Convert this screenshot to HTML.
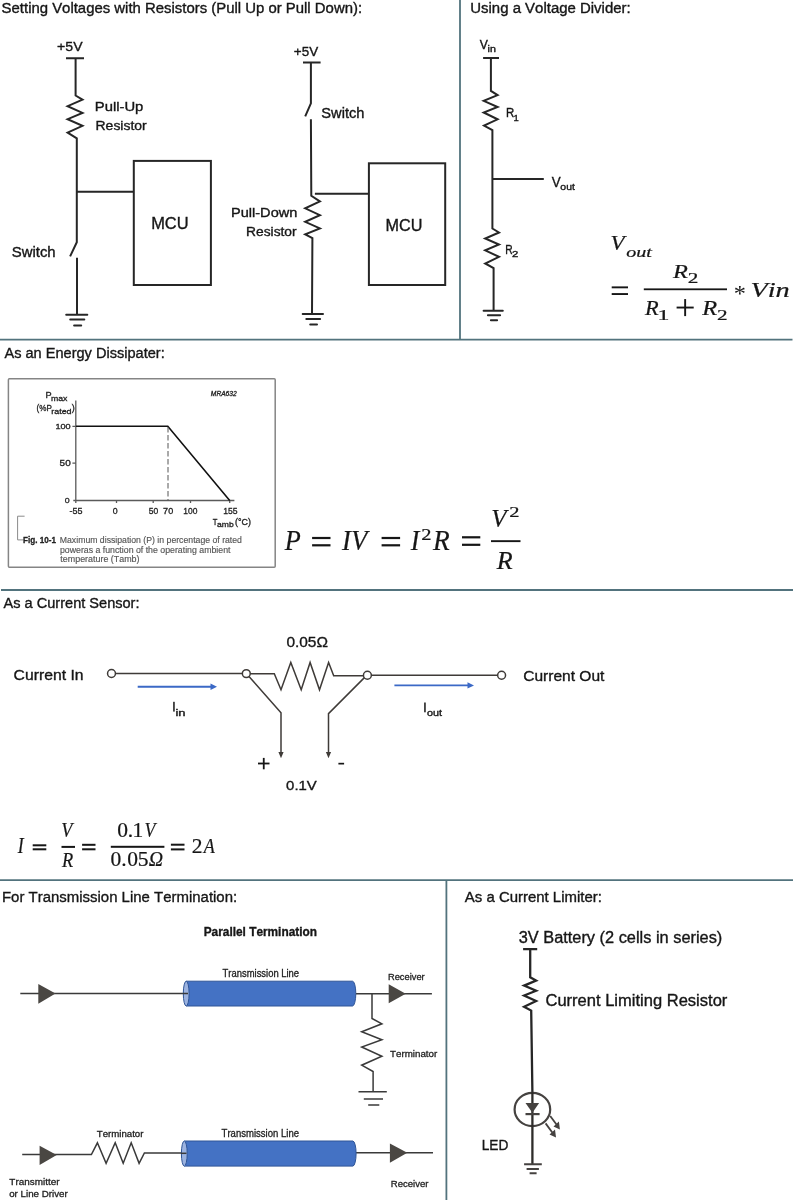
<!DOCTYPE html>
<html>
<head>
<meta charset="utf-8">
<style>
html,body{margin:0;padding:0;background:#fff;width:793px;height:1200px;overflow:hidden;}
svg{display:block;filter:blur(0.35px);}
text{font-family:"Liberation Sans",sans-serif;fill:#161616;font-kerning:none;stroke:#161616;stroke-width:0.35;}
.m{font-family:"Liberation Serif",serif;font-style:italic;stroke-width:0;}
.mr{font-family:"Liberation Serif",serif;stroke-width:0;}
.mt text{stroke:#161616;stroke-width:0.22;}
text.c5{fill:#555;stroke:#555;stroke-width:0.15;}
text.c2{fill:#222;stroke:#222;stroke-width:0.3;}
.w{fill:none;stroke:#262626;stroke-width:2;stroke-linejoin:miter;stroke-linecap:butt;}
.g{fill:none;stroke:#3f3b38;stroke-width:1.5;}
.dv{stroke:#52737d;stroke-width:1.8;}
</style>
</head>
<body>
<svg width="793" height="1200" viewBox="0 0 793 1200">
<rect x="0" y="0" width="793" height="1200" fill="#fff"/>

<line class="dv" x1="0" y1="339.6" x2="792.5" y2="339.6"/>
<line class="dv" x1="1" y1="590" x2="793" y2="590"/>
<line class="dv" x1="0" y1="880.2" x2="793" y2="880.2"/>
<line class="dv" x1="460" y1="0" x2="460" y2="339.6"/>
<line class="dv" x1="446.4" y1="880.2" x2="446.4" y2="1200"/>
<text x="1.62" y="13.20" font-size="14.10" textLength="360.44" lengthAdjust="spacingAndGlyphs">Setting Voltages with Resistors (Pull Up or Pull Down):</text>
<path class="w" d="M66 58.3H84 M75.6 58.3V95.5 L82.5 99.6 L67.6 106.2 L82.5 112.9 L67.6 119.2 L82.5 125.8 L67.6 132.7 L76.8 138.4 V242.2 L70.1 256.4 M77 257.8V314.7 M76.8 191.7H133.8"/>
<rect class="w" x="133.8" y="160.9" width="77.1" height="124.1"/>
<path class="w" style="stroke-linecap:round" d="M66.2 314.7H87.3 M70.2 319.5H84.3 M74.1 325.5H81.2"/>
<text x="57.11" y="51.40" font-size="13.37" textLength="25.45" lengthAdjust="spacingAndGlyphs">+5V</text>
<text x="94.79" y="110.70" font-size="12.94" textLength="48.54" lengthAdjust="spacingAndGlyphs">Pull-Up</text>
<text x="95.56" y="129.80" font-size="12.50" textLength="51.18" lengthAdjust="spacingAndGlyphs">Resistor</text>
<text x="151.15" y="229.40" font-size="16.42" textLength="37.42" lengthAdjust="spacingAndGlyphs">MCU</text>
<text x="11.82" y="257.00" font-size="13.81" textLength="43.84" lengthAdjust="spacingAndGlyphs">Switch</text>
<path class="w" d="M303 62.5H320.6 M310.9 62.5V103.4 L305.2 116.3 M310.9 119.2 L311.3 195.8 L319.9 201.3 L305.2 208.3 L319.9 215.2 L305.2 221.8 L319.9 228.4 L305.2 234.3 L312.4 238.1 L312 314 M314.9 193.7H368.9"/>
<rect class="w" x="368.9" y="163.3" width="76.3" height="121.7"/>
<path class="w" style="stroke-linecap:round" d="M302.7 314H323 M306.3 318.9H320.1 M310.2 324.5H317"/>
<text x="293.84" y="55.60" font-size="13.08" textLength="24.32" lengthAdjust="spacingAndGlyphs">+5V</text>
<text x="321.34" y="117.60" font-size="13.95" textLength="43.12" lengthAdjust="spacingAndGlyphs">Switch</text>
<text x="231.01" y="216.60" font-size="12.79" textLength="66.34" lengthAdjust="spacingAndGlyphs">Pull-Down</text>
<text x="246.07" y="235.70" font-size="12.65" textLength="50.56" lengthAdjust="spacingAndGlyphs">Resistor</text>
<text x="385.57" y="230.80" font-size="16.57" textLength="36.88" lengthAdjust="spacingAndGlyphs">MCU</text>
<text x="470.25" y="13.20" font-size="13.95" textLength="160.42" lengthAdjust="spacingAndGlyphs">Using a Voltage Divider:</text>
<path class="w" d="M483.1 57.9H499 M490.9 57.9V90.9 L497.6 95.1 L483.7 100.8 L497.6 107 L483.7 112.5 L497.6 119.3 L484 125.6 L492.4 130.2 V228.5 L499 232.5 L485.2 238.5 L499 244.5 L485.2 250.3 L499 256.8 L485.2 263.5 L493.6 268 V310.8 M492.4 178.9H543.8"/>
<path class="w" style="stroke-linecap:round" d="M483.6 310.8H502.8 M487.9 315.3H500.1 M490.9 320.3H497.1"/>
<text x="479.85" y="49.00" font-size="11.92" textLength="8.11" lengthAdjust="spacingAndGlyphs">V</text>
<text x="487.59" y="52.10" font-size="8.60" textLength="8.31" lengthAdjust="spacingAndGlyphs">in</text>
<text x="505.96" y="117.40" font-size="12.21" textLength="8.27" lengthAdjust="spacingAndGlyphs">R</text>
<text x="513.58" y="120.50" font-size="8.40" textLength="5.29" lengthAdjust="spacingAndGlyphs">1</text>
<text x="505.36" y="253.70" font-size="12.21" textLength="7.42" lengthAdjust="spacingAndGlyphs">R</text>
<text x="512.03" y="256.80" font-size="8.40" textLength="6.35" lengthAdjust="spacingAndGlyphs">2</text>
<text x="551.74" y="186.50" font-size="13.81" textLength="8.92" lengthAdjust="spacingAndGlyphs">V</text>
<text x="560.36" y="190.00" font-size="9.60" textLength="14.51" lengthAdjust="spacingAndGlyphs">out</text>
<g class="mt">
<text class="m" x="610.50" y="250.40" font-size="20.00" textLength="14.09" lengthAdjust="spacingAndGlyphs">V</text>
<text class="m" x="626.20" y="256.50" font-size="15.00" textLength="25.70" lengthAdjust="spacingAndGlyphs">out</text>
<text class="m" x="673.13" y="277.70" font-size="19.08" textLength="14.87" lengthAdjust="spacingAndGlyphs">R</text>
<text class="mr" x="687.87" y="283.30" font-size="14.96" textLength="10.60" lengthAdjust="spacingAndGlyphs">2</text>
<text class="m" x="645.12" y="314.90" font-size="20.15" textLength="13.65" lengthAdjust="spacingAndGlyphs">R</text>
<text class="mr" x="657.50" y="320.20" font-size="14.96" textLength="11.93" lengthAdjust="spacingAndGlyphs">1</text>
<text class="m" x="702.33" y="314.90" font-size="20.15" textLength="14.87" lengthAdjust="spacingAndGlyphs">R</text>
<text class="mr" x="717.07" y="320.20" font-size="14.96" textLength="10.60" lengthAdjust="spacingAndGlyphs">2</text>
<text class="m" x="750.52" y="296.60" font-size="20.76" textLength="39.25" lengthAdjust="spacingAndGlyphs">Vin</text>
</g>
<g fill="#161616">
<rect x="611.7" y="286.4" width="16.3" height="1.9"/><rect x="611.7" y="293.1" width="16.3" height="1.9"/>
<rect x="643.8" y="288.4" width="83.2" height="1.8"/>
<rect x="676.6" y="306.6" width="17.1" height="1.9"/><rect x="684.2" y="299.1" width="1.9" height="17"/>
</g>
<text class="mr" x="733.81" y="300.50" font-size="22.60" textLength="12.15" lengthAdjust="spacingAndGlyphs">*</text>
<text x="4.47" y="357.70" font-size="14.39" textLength="160.26" lengthAdjust="spacingAndGlyphs">As an Energy Dissipater:</text>
<rect x="8.4" y="378.8" width="266.8" height="188.4" rx="1" fill="none" stroke="#858585" stroke-width="1.5"/>
<path d="M75.8 400.5V503 M73.3 500.5H234.4 M72.4 426.4H75.8 M72.4 463.2H75.8 M116.5 500.5V503 M153.2 500.5V503 M190.5 500.5V503 M229.7 500.5V503" fill="none" stroke="#5a5a5a" stroke-width="1.3"/>
<path d="M76 426.3H167.8L229.7 500.6" fill="none" stroke="#111" stroke-width="1.6"/>
<line x1="168" y1="427" x2="168" y2="500.6" stroke="#555" stroke-width="1" stroke-dasharray="5.5 2.5"/>
<g>
<text class="c2" x="55.40" y="428.80" font-size="7.70" textLength="15.25" lengthAdjust="spacingAndGlyphs">100</text>
<text class="c2" x="59.60" y="466.20" font-size="8.14" textLength="11.09" lengthAdjust="spacingAndGlyphs">50</text>
<text class="c2" x="64.66" y="503.30" font-size="7.99" textLength="4.89" lengthAdjust="spacingAndGlyphs">0</text>
<text class="c2" x="69.60" y="513.60" font-size="8.58" textLength="12.98" lengthAdjust="spacingAndGlyphs">-55</text>
<text class="c2" x="112.66" y="513.60" font-size="8.58" textLength="4.89" lengthAdjust="spacingAndGlyphs">0</text>
<text class="c2" x="148.86" y="513.60" font-size="8.58" textLength="9.47" lengthAdjust="spacingAndGlyphs">50</text>
<text class="c2" x="163.14" y="513.60" font-size="8.58" textLength="10.01" lengthAdjust="spacingAndGlyphs">70</text>
<text class="c2" x="183.26" y="513.60" font-size="8.58" textLength="14.07" lengthAdjust="spacingAndGlyphs">100</text>
<text class="c2" x="223.25" y="513.60" font-size="8.58" textLength="14.31" lengthAdjust="spacingAndGlyphs">155</text>
<text class="c2" x="45.54" y="398.20" font-size="8.14" textLength="6.14" lengthAdjust="spacingAndGlyphs">P</text>
<text class="c2" x="51.02" y="400.90" font-size="8.00" textLength="16.47" lengthAdjust="spacingAndGlyphs">max</text>
<text class="c2" x="36.60" y="410.60" font-size="8.72" textLength="15.33" lengthAdjust="spacingAndGlyphs">(%P</text>
<text class="c2" x="51.21" y="414.10" font-size="8.00" textLength="20.37" lengthAdjust="spacingAndGlyphs">rated</text>
<text class="c2" x="71.75" y="410.60" font-size="8.70" textLength="3.01" lengthAdjust="spacingAndGlyphs">)</text>
<text class="c2" x="212.73" y="524.80" font-size="8.43" textLength="4.65" lengthAdjust="spacingAndGlyphs">T</text>
<text class="c2" x="217.04" y="526.90" font-size="7.40" textLength="16.62" lengthAdjust="spacingAndGlyphs">amb</text>
<text class="c2" x="235.05" y="525.00" font-size="8.20" textLength="15.90" lengthAdjust="spacingAndGlyphs">(°C)</text>
</g>
<text class="c2" x="210.85" y="396.10" font-size="6.40" textLength="25.88" lengthAdjust="spacingAndGlyphs" font-style="italic">MRA632</text>
<path d="M24.6 516.2H17.6V539.9H23.6" fill="none" stroke="#8a8a8a" stroke-width="1"/>
<text class="c2" font-weight="bold" x="23.06" y="543.10" font-size="8.87" textLength="32.97" lengthAdjust="spacingAndGlyphs">Fig. 10-1</text>
<g>
<text class="c5" x="59.79" y="543.10" font-size="8.87" textLength="182.17" lengthAdjust="spacingAndGlyphs">Maximum dissipation (P) in percentage of rated</text>
<text class="c5" x="59.94" y="552.60" font-size="8.87" textLength="170.53" lengthAdjust="spacingAndGlyphs">poweras a function of the operating ambient</text>
<text class="c5" x="60.37" y="562.00" font-size="8.87" textLength="79.19" lengthAdjust="spacingAndGlyphs">temperature (Tamb)</text>
</g>
<g class="mt">
<text class="m" x="284.74" y="549.80" font-size="28.70" textLength="16.03" lengthAdjust="spacingAndGlyphs">P</text>
<text class="m" x="342.00" y="549.80" font-size="28.70" textLength="25.22" lengthAdjust="spacingAndGlyphs">IV</text>
<text class="m" x="410.80" y="549.80" font-size="28.70" textLength="8.68" lengthAdjust="spacingAndGlyphs">I</text>
<text class="mr" x="421.20" y="540.20" font-size="15.70" textLength="10.23" lengthAdjust="spacingAndGlyphs">2</text>
<text class="m" x="432.95" y="549.80" font-size="28.70" textLength="16.71" lengthAdjust="spacingAndGlyphs">R</text>
<text class="m" x="491.29" y="527.10" font-size="25.34" textLength="15.30" lengthAdjust="spacingAndGlyphs">V</text>
<text class="mr" x="509.30" y="517.30" font-size="14.50" textLength="10.23" lengthAdjust="spacingAndGlyphs">2</text>
<text class="m" x="496.84" y="569.00" font-size="24.73" textLength="15.89" lengthAdjust="spacingAndGlyphs">R</text>
</g>
<g fill="#161616">
<rect x="312.1" y="536.9" width="18.4" height="2.2"/><rect x="312.1" y="544.2" width="18.4" height="2.2"/>
<rect x="381.6" y="536.9" width="18.5" height="2.2"/><rect x="381.6" y="544.2" width="18.5" height="2.2"/>
<rect x="462" y="536.2" width="18.3" height="2.2"/><rect x="462" y="543.7" width="18.3" height="2.2"/>
<rect x="491" y="540.2" width="29.5" height="1.9"/>
</g>
<text x="3.57" y="607.60" font-size="14.53" textLength="135.96" lengthAdjust="spacingAndGlyphs">As a Current Sensor:</text>
<text x="13.60" y="680.30" font-size="14.68" textLength="69.92" lengthAdjust="spacingAndGlyphs">Current In</text>
<text x="523.21" y="681.10" font-size="14.97" textLength="81.20" lengthAdjust="spacingAndGlyphs">Current Out</text>
<g class="g">
<circle cx="111.5" cy="673.5" r="3.95"/>
<circle cx="246.3" cy="673.6" r="3.95"/>
<circle cx="367.4" cy="675.2" r="3.95"/>
<circle cx="501.6" cy="675.2" r="3.95"/>
<path d="M115.5 673.5H242.3 M250.3 673.8H274.3 L281 689.8 L290.8 662.4 L301.2 689.8 L310.1 662.4 L319.5 689.8 L328.6 662.4 L333.7 675.7 H363.4 M371.4 675.2H497.6"/>
<path d="M249 676.4 L281 712.8 V754 M364.4 677.6 L328.5 713.6 V754"/>
</g>
<path d="M278.4 752 L283.6 752 L281 758.2 Z M325.9 752 L331.1 752 L328.5 758.2 Z" fill="#3f3b38"/>
<g stroke="#3b69c6" stroke-width="1.9" fill="#3b69c6">
<line x1="137.7" y1="686.8" x2="212" y2="686.8"/>
<path d="M210.5 683.6 L217 686.8 L210.5 690 Z" stroke="none"/>
<line x1="394.4" y1="685.4" x2="469" y2="685.4"/>
<path d="M467.5 682.2 L474 685.4 L467.5 688.6 Z" stroke="none"/>
</g>
<text x="286.40" y="647.30" font-size="14.97" textLength="41.57" lengthAdjust="spacingAndGlyphs">0.05Ω</text>
<rect x="173.2" y="701.8" width="1.5" height="9.8" fill="#161616"/>
<text x="175.43" y="715.70" font-size="9.50" textLength="10.11" lengthAdjust="spacingAndGlyphs">in</text>
<rect x="424.2" y="702.5" width="1.5" height="9.8" fill="#161616"/>
<text x="427.05" y="715.60" font-size="9.50" textLength="15.03" lengthAdjust="spacingAndGlyphs">out</text>
<rect x="258" y="762.6" width="11.5" height="1.8" fill="#161616"/><rect x="262.85" y="757.9" width="1.8" height="11.4" fill="#161616"/>
<rect x="338.4" y="762.8" width="5.7" height="1.7" fill="#161616"/>
<text x="286.12" y="790.20" font-size="13.37" textLength="30.65" lengthAdjust="spacingAndGlyphs">0.1V</text>
<g class="mt">
<text class="m" x="17.87" y="853.30" font-size="22.60" textLength="5.93" lengthAdjust="spacingAndGlyphs">I</text>
<text class="m" x="61.34" y="837.10" font-size="21.53" textLength="11.19" lengthAdjust="spacingAndGlyphs">V</text>
<text class="m" x="62.10" y="866.70" font-size="21.83" textLength="11.21" lengthAdjust="spacingAndGlyphs">R</text>
<text class="mr" x="117.2 127.8 132.5" y="837.2" font-size="21.5">0.1</text>
<text class="m" x="144.47" y="837.20" font-size="21.98" textLength="10.91" lengthAdjust="spacingAndGlyphs">V</text>
<text class="mr" x="110.6 121.3 127.3 137.8" y="866.4" font-size="21.5">0.05</text>
<text class="m" x="148.87" y="866.40" font-size="21.83" textLength="14.34" lengthAdjust="spacingAndGlyphs">Ω</text>
<text class="mr" x="191.7" y="852.9" font-size="21.5">2</text>
<text class="m" x="203.69" y="852.90" font-size="21.83" textLength="11.05" lengthAdjust="spacingAndGlyphs">A</text>
</g>
<g fill="#161616">
<rect x="32.7" y="844.3" width="13.6" height="2"/><rect x="32.7" y="848.3" width="13.6" height="2"/>
<rect x="82.1" y="843.8" width="13.4" height="2"/><rect x="82.1" y="848.3" width="13.4" height="2"/>
<rect x="170.9" y="843.7" width="13.6" height="2"/><rect x="170.9" y="848.4" width="13.6" height="2"/>
<rect x="61.5" y="845.9" width="13.5" height="2"/>
<rect x="110.8" y="845.8" width="53.6" height="2"/>
</g>
<text x="1.97" y="901.50" font-size="15.26" textLength="235.19" lengthAdjust="spacingAndGlyphs">For Transmission Line Termination:</text>
<text font-weight="bold" x="203.71" y="936.40" font-size="12.79" textLength="113.23" lengthAdjust="spacingAndGlyphs">Parallel Termination</text>
<defs>
<linearGradient id="cyl" x1="0" y1="0" x2="0" y2="1">
<stop offset="0" stop-color="#4472c4"/><stop offset="1" stop-color="#4472c4"/>
</linearGradient>
</defs>
<path d="M20.3 993.5H186 M355.8 993.8H431.9 M372 993.8V1018.5 L381.9 1023.8 L361.7 1031.8 L381.9 1039.7 L361.7 1047 L381.9 1056.3 L361.7 1065.2 L373.1 1071.5 V1091.8" fill="none" stroke="#3a3a3a" stroke-width="1.5"/>
<path d="M358.5 1091.8H386.8 M363.8 1099H383 M368.2 1105H379.3" fill="none" stroke="#3a3a3a" stroke-width="1.6"/>
<path d="M38.3 984 L55.5 993.5 L38.3 1003.8 Z M388.7 984.3 L405.7 993.8 L388.7 1003.2 Z" fill="#4a4743"/>
<path d="M186.2 981.2 H352.5 A3.3 12.4 0 0 1 352.5 1006 H186.2 Z" fill="#4472c4" stroke="#2f5597" stroke-width="1"/>
<ellipse cx="186.2" cy="993.6" rx="2.9" ry="12.4" fill="#9cb3e0" stroke="#2f5597" stroke-width="1"/>
<line x1="183" y1="993.5" x2="188" y2="993.5" stroke="#3a3a3a" stroke-width="1.5"/>
<g>
<text class="c2" x="222.59" y="976.50" font-size="10.03" textLength="76.53" lengthAdjust="spacingAndGlyphs">Transmission Line</text>
<text class="c2" x="387.94" y="980.40" font-size="9.59" textLength="36.72" lengthAdjust="spacingAndGlyphs">Receiver</text>
<text class="c2" x="390.08" y="1057.00" font-size="9.74" textLength="47.18" lengthAdjust="spacingAndGlyphs">Terminator</text>
</g>
<path d="M22.2 1154.6H91.4 L97.4 1142.8 L106.1 1163.3 L115.2 1142.8 L123.2 1163.3 L131.2 1142.8 L139.1 1163.3 L144.4 1153 H188 M356 1152.8H433" fill="none" stroke="#3a3a3a" stroke-width="1.5"/>
<path d="M39.6 1145.8 L56.7 1155 L39.6 1165 Z M389.9 1143.4 L407.3 1152.8 L389.9 1162.8 Z" fill="#4a4743"/>
<path d="M184.3 1141 H352.8 A3.3 12.55 0 0 1 352.8 1166.1 H184.3 Z" fill="#4472c4" stroke="#2f5597" stroke-width="1"/>
<ellipse cx="184.3" cy="1153.55" rx="2.9" ry="12.55" fill="#9cb3e0" stroke="#2f5597" stroke-width="1"/>
<line x1="181" y1="1153.3" x2="186.5" y2="1153.3" stroke="#3a3a3a" stroke-width="1.5"/>
<g>
<text class="c2" x="96.78" y="1136.70" font-size="9.16" textLength="46.68" lengthAdjust="spacingAndGlyphs">Terminator</text>
<text class="c2" x="221.59" y="1136.70" font-size="10.03" textLength="77.44" lengthAdjust="spacingAndGlyphs">Transmission Line</text>
<text class="c2" x="390.82" y="1186.90" font-size="9.74" textLength="37.64" lengthAdjust="spacingAndGlyphs">Receiver</text>
<text class="c2" x="9.38" y="1184.60" font-size="9.59" textLength="50.09" lengthAdjust="spacingAndGlyphs">Transmitter</text>
<text class="c2" x="9.19" y="1197.00" font-size="9.45" textLength="58.57" lengthAdjust="spacingAndGlyphs">or Line Driver</text>
</g>
<text x="464.87" y="901.90" font-size="14.10" textLength="136.99" lengthAdjust="spacingAndGlyphs">As a Current Limiter:</text>
<text x="518.68" y="942.90" font-size="15.84" textLength="203.64" lengthAdjust="spacingAndGlyphs">3V Battery (2 cells in series)</text>
<path class="w" style="stroke-width:2.3" d="M523.1 949.1H537.2 M530.2 949.1V977.3 L536.1 980.6 L524.1 985.6 L536.1 990.7 L524.1 995.5 L536.1 1001 L524.1 1006.8 L531.2 1010.6 L532.4 1092"/>
<text x="545.46" y="1006.30" font-size="15.84" textLength="181.91" lengthAdjust="spacingAndGlyphs">Current Limiting Resistor</text>
<g fill="none" stroke="#454240" stroke-width="2.2">
<ellipse cx="532.4" cy="1109.5" rx="17.8" ry="16.6"/>
<path d="M532.4 1092 V1164.3" stroke="#2e2c2a" stroke-width="2.3"/><path d="M525.5 1114.1H539.6"/>
<path d="M524.1 1164.3H541.8 M526.6 1168.9H538.9 M529.6 1173.3H536.6" stroke-width="2"/>
<path d="M550.2 1116 L556.5 1124.5 M545.6 1123.4 L552.3 1132.5" stroke-width="1.8"/>
</g>
<path d="M525.5 1102.9 L539.1 1102.9 L532.4 1112.8 Z" fill="#454240"/>
<path d="M553.5 1126.5 L559.9 1129.6 L558.9 1121.6 Z M549.5 1134.5 L556 1137.5 L555 1129.6 Z" fill="#454240"/>
<text x="481.67" y="1150.40" font-size="14.68" textLength="26.68" lengthAdjust="spacingAndGlyphs">LED</text>
<!--REST-->
</svg>
</body>
</html>
